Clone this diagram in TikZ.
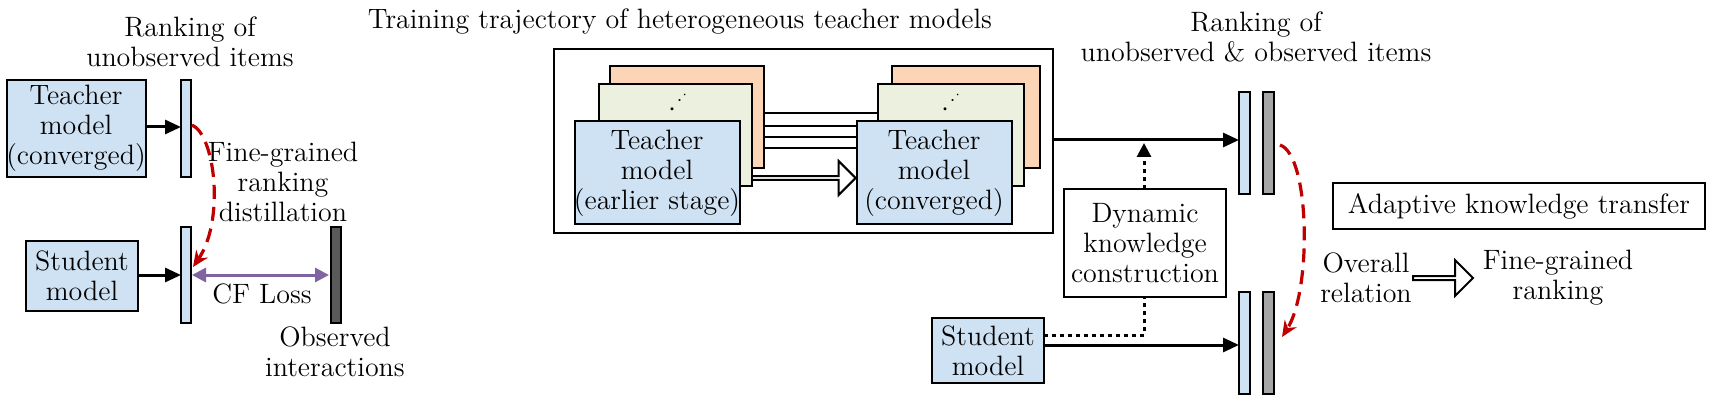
\documentclass[tikz,border=0pt]{standalone}
\usetikzlibrary{arrows.meta,shapes.arrows}
\definecolor{bl}{HTML}{CFE2F3}
\definecolor{gr}{HTML}{EBF1DE}
\definecolor{or}{HTML}{FBD5B5}
\definecolor{dg}{HTML}{595959}
\definecolor{lg}{HTML}{A6A6A6}
\definecolor{rd}{HTML}{C00000}
\definecolor{pu}{HTML}{8064A2}
\begin{document}
\begin{tikzpicture}[x=0.5pt,y=-0.5pt,
 txt/.style={font=\rmfamily\fontsize{14}{15}\selectfont,align=center,inner sep=0pt},
 box/.style={draw,line width=1pt},
 arr/.style={line width=1.5pt,-{Triangle[length=8pt,width=7pt]}},
 red/.style={rd,line width=1.6pt,dash pattern=on 7pt off 4pt,-{Stealth[length=8pt,width=7pt]}},
 dot/.style={line width=1.5pt,dash pattern=on 2pt off 2pt}]
\useasboundingbox (0,0) rectangle (1724,401);
% ---------- left
\node[txt] (rk1) at (190,42) {Ranking of\\unobserved items};
\draw[box,fill=bl] (7,80) rectangle (146,177); \coordinate (tb) at (146,127);
\node[txt] (t1) at (76,128) {Teacher\\model\\(converged)};
\draw[box,fill=bl] (181,80) rectangle (191,177);
\coordinate (b1) at (181,127);
\draw[arr] (tb) -- (b1);
\draw[box,fill=bl] (181,227) rectangle (191,323);
\draw[box,fill=dg] (331,227) rectangle (341,323);
\draw[box,fill=bl] (26,241) rectangle (138,311);
\node[txt] (s1) at (82,276) {Student\\model};
\coordinate (sb) at (138,275); \coordinate (b2) at (181,275);
\draw[arr] (sb) -- (b2);
\coordinate (r1a) at (192,125); \coordinate (r1b) at (193,267);
\draw[red] (r1a) .. controls (215,135) and (225,220) .. (r1b);
\node[txt] (fg1) at (283,182) {Fine-grained\\ranking\\distillation};
\coordinate (c1) at (192,275); \coordinate (c2) at (329,275);
\draw[pu,line width=1.5pt,{Triangle[length=7pt,width=7pt]}-{Triangle[length=7pt,width=7pt]}] (c1) -- (c2);
\node[txt] (cf) at (262,294) {CF Loss};
\node[txt] (obs) at (335,352) {Observed\\interactions};
% ---------- middle
\node[txt] (title) at (680,22) {Training trajectory of heterogeneous teacher models};
\draw[box,line width=1.3pt] (554,49) rectangle (1053,233);
\coordinate (ob) at (1053,140);
% connecting bands
\draw[line width=1pt,fill=white] (740,113) rectangle (900,126);
\draw[line width=1pt,fill=white] (740,137) rectangle (880,148);
\node[draw,line width=1pt,fill=white,single arrow,minimum height=60pt,minimum width=17pt,single arrow head extend=4pt,inner sep=0pt,anchor=tip] (ha) at (857,178) {};
% left stack
\draw[box,fill=or] (610,66) rectangle (764,168);
\draw[box,fill=gr] (599,84) rectangle (752,186);
\node[txt] (d1) at (679,104) {$\cdot^{\cdot^{\cdot}}$};
\draw[box,fill=bl] (575,121) rectangle (740,224);
\node[txt] (t2) at (657,173) {Teacher\\model\\(earlier stage)};
% right stack
\draw[box,fill=or] (892,66) rectangle (1040,168);
\draw[box,fill=gr] (878,84) rectangle (1024,186);
\node[txt] (d2) at (952,104) {$\cdot^{\cdot^{\cdot}}$};
\draw[box,fill=bl] (857,121) rectangle (1012,224);
\node[txt] (t3) at (934,173) {Teacher\\model\\(converged)};
% right part
\node[txt] (rk2) at (1256,37) {Ranking of\\unobserved \& observed items};
\draw[box,fill=bl] (1239,92) rectangle (1250,194);
\draw[box,fill=lg] (1263,92) rectangle (1274,194);
\draw[box,fill=bl] (1239,292) rectangle (1250,394);
\draw[box,fill=lg] (1263,292) rectangle (1274,394);
\coordinate (b3) at (1239,140); \coordinate (b4) at (1239,345);
\draw[arr] (ob) -- (b3);
\draw[box] (1064,189) rectangle (1226,297);
\node[txt] (dk) at (1145,243) {Dynamic\\knowledge\\construction};
\coordinate (dkt) at (1144,189); \coordinate (dkb) at (1144,297); \coordinate (up) at (1144,143);
\draw[dot,-{Triangle[length=7pt,width=7pt]}] (dkt) -- (up);
\draw[box,fill=bl] (932,318) rectangle (1044,383);
\node[txt] (s2) at (988,351) {Student\\model};
\coordinate (s2r) at (1044,345); \coordinate (s2d) at (1044,335);
\draw[arr] (s2r) -- (b4);
\draw[dot] (s2d) -- (1144,335) -- (dkb);
\coordinate (r2a) at (1280,145); \coordinate (r2b) at (1282,337);
\draw[red] (r2a) .. controls (1310,155) and (1312,290) .. (r2b);
\node[txt,draw,line width=1pt,minimum width=186pt,minimum height=23pt] (ak) at (1519,206) {Adaptive knowledge transfer};
\node[txt] (ov) at (1366,278) {Overall\\relation};
\node[draw,line width=1pt,single arrow,minimum height=30pt,minimum width=18pt,single arrow head extend=4pt,inner sep=0pt] (ha2) at (1442,278) {};
\node[txt] (fg2) at (1558,278) {Fine-grained\\ranking};
\end{tikzpicture}
\end{document}
